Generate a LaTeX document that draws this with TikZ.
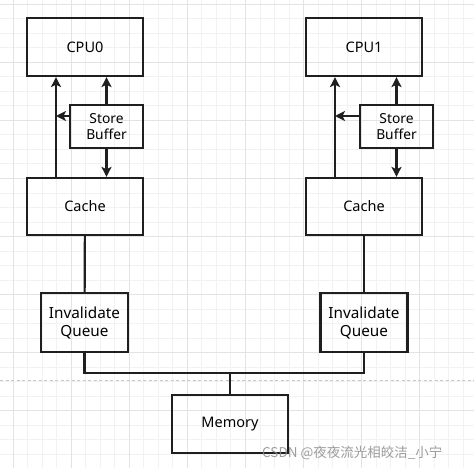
\documentclass[tikz,border=0pt]{standalone}
\usepackage{fontspec}
\setmainfont{Noto Sans}
\newfontfamily\cjk{Noto Sans CJK SC}
\usetikzlibrary{arrows.meta}
\newcommand{\gstep}{14.525}
\tikzset{
  blk/.style={draw=black!88,line width=2.2pt,inner sep=0pt,align=center},
  arr/.style={line width=2.2pt,draw=black!88,-{Stealth[length=10pt,width=10pt,inset=2.5pt]}},
  wire/.style={line width=2.2pt,draw=black!88}
}

\begin{document}
\begin{tikzpicture}[x=1pt,y=-1pt]
   \useasboundingbox (0,0) rectangle (474,468);
   \fill[white] (0,0) rectangle (474,468);
   \foreach \i in {-1,...,32} {
     \draw[black!5,line width=0.6pt] ({12.9+\gstep*\i},0) -- ({12.9+\gstep*\i},468);
     \draw[black!5,line width=0.6pt] (0,{4+\gstep*\i}) -- (474,{4+\gstep*\i});
   }
   \foreach \i in {-1,...,8} {
     \draw[black!11,line width=0.6pt] ({12.9+4*\gstep*\i},0) -- ({12.9+4*\gstep*\i},468);
     \draw[black!11,line width=0.6pt] (0,{4+4*\gstep*\i}) -- (474,{4+4*\gstep*\i});
   }
   \draw[black!22,line width=0.9pt,dash pattern=on 3pt off 2.5pt] (0,380) -- (474,380);

   \node[blk,minimum width=116pt,minimum height=58pt,font=\fontsize{14.5}{17}\selectfont] (cpu0) at (85,47) {CPU0};
   \node[blk,minimum width=73pt,minimum height=43pt,font=\fontsize{13.8}{16}\selectfont] (sb0) at (106.5,126.5) {Store\\Buffer};
   \node[blk,minimum width=116pt,minimum height=57pt,font=\fontsize{14.5}{17}\selectfont] (cache0) at (85,206.5) {Cache};
   \node[blk,minimum width=87pt,minimum height=59pt,font=\fontsize{15.3}{18}\selectfont] (iq0) at (84.5,322.5) {Invalidate\\Queue};

   \node[blk,minimum width=116pt,minimum height=58pt,font=\fontsize{14.5}{17}\selectfont] (cpu1) at (364,47) {CPU1};
   \node[blk,minimum width=73pt,minimum height=43pt,font=\fontsize{13.8}{16}\selectfont] (sb1) at (396.5,126.5) {Store\\Buffer};
   \node[blk,minimum width=116pt,minimum height=57pt,font=\fontsize{14.5}{17}\selectfont] (cache1) at (364,206.5) {Cache};
   \node[blk,minimum width=87pt,minimum height=59pt,font=\fontsize{15.3}{18}\selectfont] (iq1) at (364,322.5) {Invalidate\\Queue};

   \node[blk,minimum width=116pt,minimum height=58pt,font=\fontsize{14.5}{17}\selectfont] (mem) at (230,424) {Memory};

   \coordinate (bus0) at (56,116);
   \coordinate (bus1) at (335,116);
   \coordinate (join) at (230,373);

   \draw[arr] (cache0.north -| bus0) -- (cpu0.south -| bus0);
   \draw[arr] (sb0.west |- bus0) -- (bus0);
   \draw[arr] (sb0.north) -- (cpu0.south -| sb0.north);
   \draw[arr] (sb0.south) -- (cache0.north -| sb0.south);
   \draw[wire] (cache0) -- (iq0);

   \draw[arr] (cache1.north -| bus1) -- (cpu1.south -| bus1);
   \draw[arr] (sb1.west |- bus1) -- (bus1);
   \draw[arr] (sb1.north) -- (cpu1.south -| sb1.north);
   \draw[arr] (sb1.south) -- (cache1.north -| sb1.south);
   \draw[wire] (cache1) -- (iq1);

   \draw[wire] (iq0.south) |- (join) -| (iq1.south);
   \draw[wire] (join) -- (mem.north);

   \node[anchor=west,text=black!45,opacity=0.85,font=\cjk\fontsize{13.5}{16}\selectfont,inner sep=0pt] (mark) at (262,453) {CSDN @夜夜流光相皎洁\_小宁};
\end{tikzpicture}
\end{document}
